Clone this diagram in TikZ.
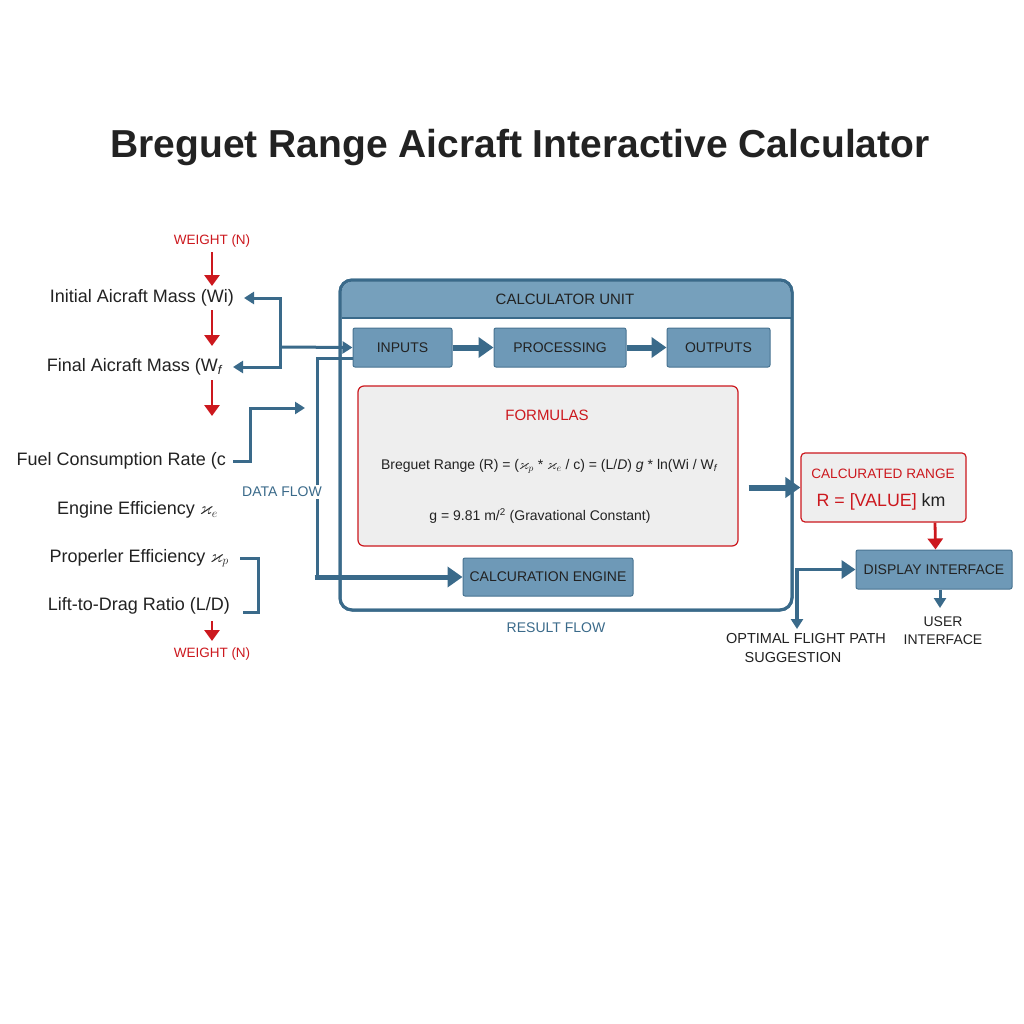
\documentclass[tikz,border=0pt]{standalone}
\usepackage{fontspec}
\setmainfont{Liberation Sans}
\usepackage{amssymb}
\usetikzlibrary{arrows.meta}
\definecolor{lineblue}{RGB}{58,106,138}
\definecolor{boxblue}{RGB}{110,153,183}
\definecolor{boxedge}{RGB}{72,116,146}
\definecolor{hdrblue}{RGB}{118,160,188}
\definecolor{redc}{RGB}{204,24,30}
\definecolor{txt}{RGB}{34,34,34}
\definecolor{panel}{RGB}{238,238,238}
\newcommand{\fs}[1]{\fontsize{#1}{#1}\selectfont}
\begin{document}
\begin{tikzpicture}[x=1pt,y=-1pt,
  lbl/.style={font=\fs{18}, text=txt, inner sep=0, anchor=east},
  redlbl/.style={font=\fs{13.5}, text=redc, inner sep=0},
  bluelbl/.style={font=\fs{14}, text=lineblue, inner sep=2},
  flowbox/.style={draw=boxedge, fill=boxblue, rounded corners=2, line width=1, font=\fs{14}, text=txt, inner sep=0},
  redarrow/.style={draw=redc, line width=2.8, -{Triangle[length=11,width=15]}},
  bluearrow/.style={draw=lineblue, line width=3, -{Triangle[length=10,width=12]}},
  blueline/.style={draw=lineblue, line width=3},
  thickarrow/.style={draw=lineblue, line width=6, -{Triangle[length=15,width=20]}}
]
\fill[white] (0,0) rectangle (1024,1024);
\useasboundingbox (0,0) rectangle (1024,1024);

% title
\node[font=\fs{39}\bfseries, text=txt, inner sep=0] (title) at (520,148) {Breguet Range Aicraft Interactive Calculator};

% left labels
\node[redlbl] (w1) at (212,241) {WEIGHT (N)};
\node[lbl] (im) at (234,298) {Initial Aicraft Mass (Wi)};
\node[lbl] (fm) at (222,367) {Final Aicraft Mass (W\textsubscript{\itshape f}};
\node[lbl] (fuel) at (226,461) {Fuel Consumption Rate (c};
\node[lbl] (eng) at (218,510) {Engine Efficiency $\varkappa_e$};
\node[lbl] (prop) at (229,558) {Properler Efficiency $\varkappa_p$};
\node[lbl] (lift) at (230,606) {Lift-to-Drag Ratio (L/D)};
\node[redlbl] (w2) at (212,654) {WEIGHT (N)};

\coordinate (r1) at (212,286);
\coordinate (r2a) at (212,310);
\coordinate (r2b) at (212,346);
\coordinate (r3a) at (212,380);
\coordinate (r3b) at (212,416);
\coordinate (r4a) at (212,621);
\draw[redarrow] (w1.south |- 0,252) -- (r1);
\draw[redarrow] (r2a) -- (r2b);
\draw[redarrow] (r3a) -- (r3b);
\draw[redarrow] (r4a) -- (w1.south |- 0,641);

% calculator unit
\node[draw=lineblue, line width=3, rounded corners=12, minimum width=452, minimum height=330, inner sep=0] (calc) at (566,445) {};
\fill[hdrblue] (341.5,318) [rounded corners=11] -- (341.5,281.5) -- (790.5,281.5) [sharp corners] -- (790.5,318) -- cycle;
\draw[lineblue, line width=1.5] (341.5,318) -- (790.5,318);
\draw[draw=lineblue, line width=3, rounded corners=12] (340,280) rectangle (792,610);
\node[font=\fs{15}, text=txt] (calchdr) at (565,299) {CALCULATOR UNIT};

\node[flowbox, minimum width=99, minimum height=39] (inputs) at (402.5,347.5) {INPUTS};
\node[flowbox, minimum width=132, minimum height=39] (proc) at (560,347.5) {PROCESSING};
\node[flowbox, minimum width=103, minimum height=39] (outputs) at (718.5,347.5) {OUTPUTS};
\draw[thickarrow] (inputs) -- (proc);
\draw[thickarrow] (proc) -- (outputs);

\node[draw=redc, fill=panel, line width=1.2, rounded corners=6, minimum width=380, minimum height=160, inner sep=0] (form) at (548,466) {};
\node[font=\fs{15}, text=redc] (formhdr) at (547,415) {FORMULAS};
\node[font=\fs{14}, text=txt, inner sep=0] (eq1) at (549,466) {Breguet Range (R) = ($\varkappa_p$ * $\varkappa_e$ / c) = (L/\textit{D}) \textit{g} * ln(Wi / W\textsubscript{\itshape f}};
\node[font=\fs{14}, text=txt, inner sep=0] (eq2) at (540,516) {g = 9.81 m/\textsuperscript{2} (Gravational Constant)};

\node[flowbox, minimum width=170, minimum height=38] (engine) at (548,577) {CALCURATION ENGINE};

% blue connectors on the left
\coordinate (j1) at (280,347);
\draw[bluearrow] (j1) |- ([xshift=10]im.east);
\draw[bluearrow] (j1) |- ([xshift=11]fm.east);
\draw[bluearrow] (j1) -- (inputs.west);
\coordinate (c2) at (317,358);
\coordinate (c3) at (317,577);
\draw[blueline] (c2 -| inputs.west) -- (c2) -- (c3);
\draw[thickarrow, line width=5] ([xshift=-2.5]c3) -- (engine.west);
\coordinate (fuelend) at (305,408);
\draw[bluearrow] ([xshift=7]fuel.east) -| (250,408) -- (fuelend);
\draw[blueline] ([xshift=11]prop.east) -- (258,558) -- (258,612) -- (243,612);
\node[bluelbl, fill=white] (dataflow) at (282,492) {DATA FLOW};
\node[bluelbl] (resultflow) at (556,628) {RESULT FLOW};

% right side
\node[draw=redc, fill=panel, line width=1.2, rounded corners=4, minimum width=165, minimum height=69, inner sep=0] (range) at (883.5,487.5) {};
\node[font=\fs{13.6}, text=redc, inner sep=0] (rangehdr) at (883,474) {CALCURATED RANGE};
\node[font=\fs{17.8}, text=redc, inner sep=0] (rangeval) at (881,502) {R = [VALUE] \textcolor{txt}{km}};
\draw[thickarrow] ([xshift=10]form.east |- range.west) -- (range.west);

\node[flowbox, minimum width=156, minimum height=39] (display) at (934,569.5) {DISPLAY INTERFACE};
\draw[redarrow] ([xshift=51.5]range.south) -- ([xshift=1.5]display.north);

\coordinate (od) at (797,629);
\draw[draw=lineblue, line width=3.5, {Triangle[length=10,width=12]}-{Triangle[length=14,width=18]}] (od) |- (display.west);
\coordinate (ui) at (940,608);
\draw[bluearrow] ([xshift=6]display.south) -- (ui);
\node[font=\fs{14}, text=txt, align=center, inner sep=0] (uitext) at (943,631) {USER\\[4pt]INTERFACE};
\node[font=\fs{14.5}, text=txt, align=center, inner sep=0] (opt) at (806,648) {OPTIMAL FLIGHT PATH\\[4pt]\hspace*{-26pt}SUGGESTION};
\end{tikzpicture}
\end{document}
